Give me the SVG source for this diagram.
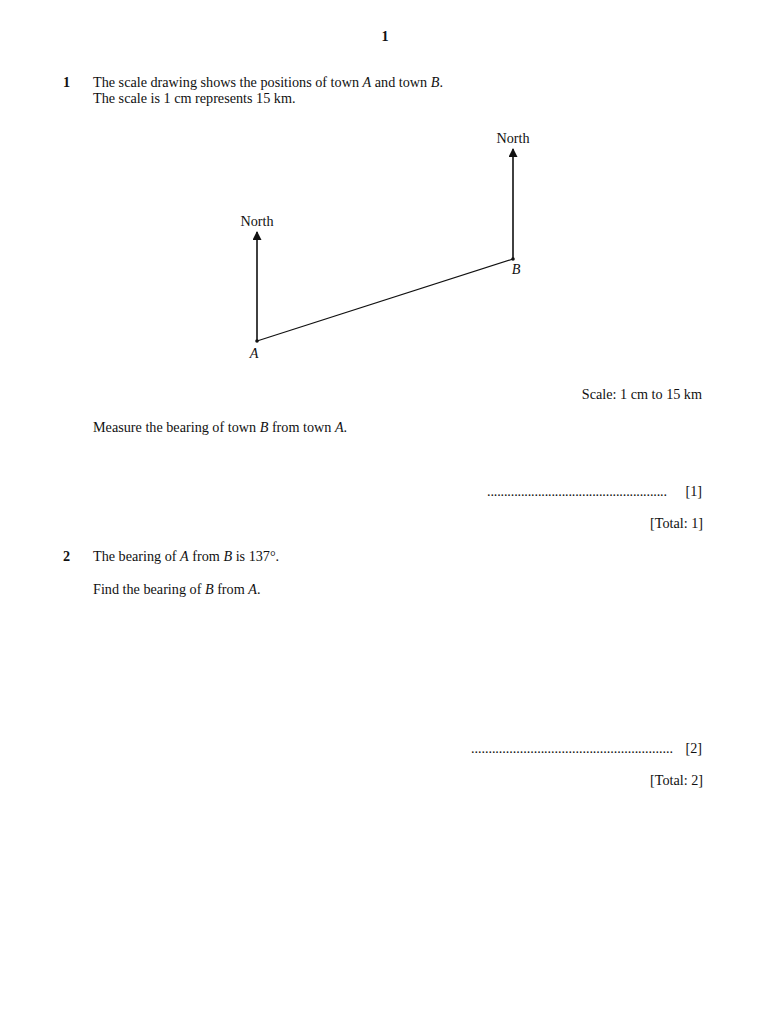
<svg xmlns="http://www.w3.org/2000/svg" width="768" height="1024" viewBox="0 0 768 1024">
<style>
text{font-family:"Liberation Serif",serif;font-size:14.2px;fill:#111}
.b{font-weight:bold}
.i{font-style:italic}
.ln{stroke:#111;stroke-width:1.6;fill:none}
</style>
<defs><marker id="ah" viewBox="0 0 10 10" refX="9" refY="5" markerWidth="12" markerHeight="9" orient="auto" markerUnits="userSpaceOnUse"><path d="M0,0 L10,5 L0,10 z" fill="#111"/></marker></defs>
<rect width="768" height="1024" fill="#fff"/>
<text x="385" y="41" class="b" text-anchor="middle">1</text>
<text x="63" y="87" class="b">1</text>
<text x="93" y="87">The scale drawing shows the positions of town <tspan class="i">A</tspan> and town <tspan class="i">B</tspan>.</text>
<text x="93" y="103">The scale is 1 cm represents 15 km.</text>
<g id="connectors">
<line class="ln" x1="257" y1="341" x2="257" y2="232" marker-end="url(#ah)"/>
<line class="ln" x1="513" y1="259" x2="513" y2="149" marker-end="url(#ah)"/>
<line x1="257" y1="341" x2="513" y2="259" stroke="#111" stroke-width="1.2"/>
</g>
<g id="nodeA"><circle cx="257" cy="341" r="1.8" fill="#111"/><text x="254" y="358" class="i" text-anchor="middle">A</text><text x="257" y="226" text-anchor="middle">North</text></g>
<g id="nodeB"><circle cx="513" cy="259" r="1.8" fill="#111"/><text x="516" y="274" class="i" text-anchor="middle">B</text><text x="513" y="143" text-anchor="middle">North</text></g>
<text x="702" y="399" text-anchor="end">Scale: 1 cm to 15 km</text>
<text x="93" y="432">Measure the bearing of town <tspan class="i">B</tspan> from town <tspan class="i">A</tspan>.</text>
<text x="487" y="496" textLength="180" lengthAdjust="spacing">.....................................................</text>
<text x="702" y="496" text-anchor="end">[1]</text>
<text x="703" y="528" text-anchor="end">[Total: 1]</text>
<text x="63" y="561" class="b">2</text>
<text x="93" y="561">The bearing of <tspan class="i">A</tspan> from <tspan class="i">B</tspan> is 137°.</text>
<text x="93" y="594">Find the bearing of <tspan class="i">B</tspan> from <tspan class="i">A</tspan>.</text>
<text x="471" y="753" textLength="202" lengthAdjust="spacing">..........................................................</text>
<text x="702" y="753" text-anchor="end">[2]</text>
<text x="703" y="785" text-anchor="end">[Total: 2]</text>
</svg>
